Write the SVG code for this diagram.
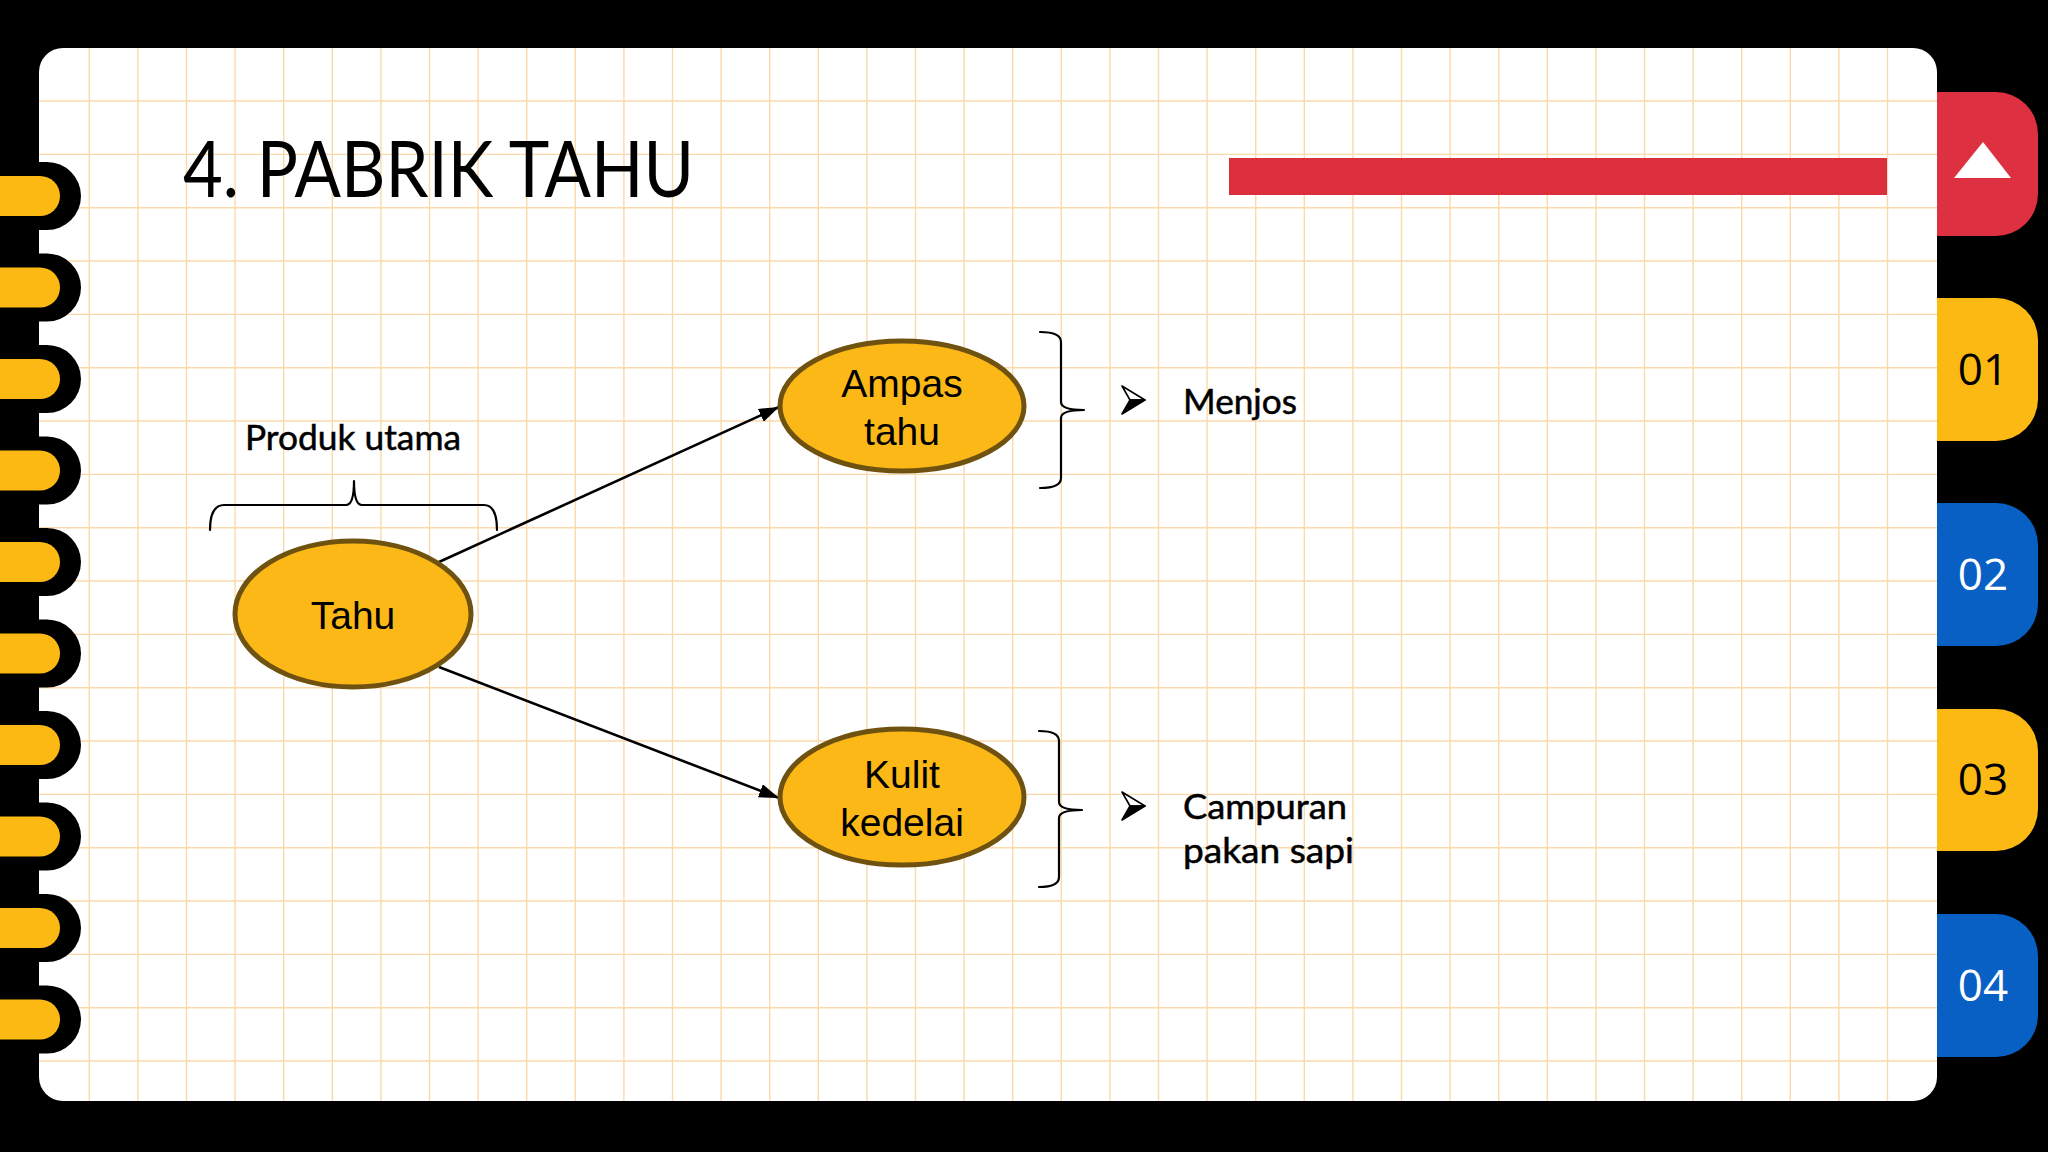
<svg xmlns="http://www.w3.org/2000/svg" width="2048" height="1152" viewBox="0 0 2048 1152">
  <style>
    .grid { fill: none; stroke: #F8CC8E; stroke-opacity: 0.75; stroke-width: 1.4; }
    .node { fill: #FBB817; stroke: #6F5210; stroke-width: 5; }
    .nodetxt { font-family: "Liberation Sans", Arial, sans-serif; font-size: 39px; fill: #000; text-anchor: middle; }
    .lbl { font-family: "Lato", "Open Sans", sans-serif; font-size: 34px; fill: #000; stroke: #000; stroke-width: 0.5; }
    .brace { fill: none; stroke: #000; stroke-width: 2.2; stroke-linecap: round; stroke-linejoin: round; }
    .conn { fill: none; stroke: #000; stroke-width: 2.6; }
    .tabnum { font-family: "Open Sans", "Noto Sans", sans-serif; font-size: 44px; text-anchor: middle; }
    .ring-black { fill: #000; }
    .ring-yellow { fill: #FDB913; }
  </style>
  <defs>
    <marker id="arrow" markerUnits="userSpaceOnUse" markerWidth="22" markerHeight="16" refX="20" refY="7" orient="auto">
      <path d="M0,0 L20,7 L0,14 Z" fill="#000"/>
    </marker>
    <g id="ring">
      <path class="ring-black" d="M0,-34 H47 A34 34 0 0 1 47,34 H0 Z"/>
      <path class="ring-yellow" d="M0,-20 H40 A20 20 0 0 1 40,20 H0 Z"/>
    </g>
    <g id="bullet">
      <path d="M0,0 L23,14 L8,14 Z" fill="#fff" stroke="#000" stroke-width="1.6" stroke-linejoin="round"/>
      <path d="M8,14 L23,14 L0,28 Z" fill="#000" stroke="#000" stroke-width="1.6" stroke-linejoin="round"/>
    </g>
  </defs>

  <!-- background -->
  <rect x="0" y="0" width="2048" height="1152" fill="#000"/>

  <!-- right side tabs -->
  <g id="tab-up">
    <path d="M1925,92 H1996 A42 42 0 0 1 2038,134 V194 A42 42 0 0 1 1996,236 H1925 Z" fill="#DD3040"/>
    <path d="M1954,178 L2011,178 L1983,142 Z" fill="#fff"/>
  </g>
  <g id="tab-01">
    <path d="M1925,298 H1996 A42 42 0 0 1 2038,340 V399 A42 42 0 0 1 1996,441 H1925 Z" fill="#FDB913"/>
    <text class="tabnum" x="1983" y="385" fill="#000">01</text>
  </g>
  <g id="tab-02">
    <path d="M1925,503 H1996 A42 42 0 0 1 2038,545 V604 A42 42 0 0 1 1996,646 H1925 Z" fill="#0860C4"/>
    <text class="tabnum" x="1983" y="590" fill="#fff">02</text>
  </g>
  <g id="tab-03">
    <path d="M1925,709 H1996 A42 42 0 0 1 2038,751 V809 A42 42 0 0 1 1996,851 H1925 Z" fill="#FDB913"/>
    <text class="tabnum" x="1983" y="795" fill="#000">03</text>
  </g>
  <g id="tab-04">
    <path d="M1925,914 H1996 A42 42 0 0 1 2038,956 V1015 A42 42 0 0 1 1996,1057 H1925 Z" fill="#0860C4"/>
    <text class="tabnum" x="1983" y="1001" fill="#fff">04</text>
  </g>

  <!-- card -->
  <rect x="39" y="48" width="1898" height="1053" rx="24" ry="24" fill="#fff"/>
  <clipPath id="cardclip"><rect x="39" y="48" width="1898" height="1053" rx="24" ry="24"/></clipPath>
  <path class="grid" clip-path="url(#cardclip)" d="M89.3 48V1101M137.9 48V1101M186.5 48V1101M235.1 48V1101M283.7 48V1101M332.3 48V1101M380.9 48V1101M429.5 48V1101M478.1 48V1101M526.7 48V1101M575.3 48V1101M623.9 48V1101M672.5 48V1101M721.1 48V1101M769.7 48V1101M818.3 48V1101M866.9 48V1101M915.5 48V1101M964.1 48V1101M1012.7 48V1101M1061.3 48V1101M1109.9 48V1101M1158.5 48V1101M1207.1 48V1101M1255.7 48V1101M1304.3 48V1101M1352.9 48V1101M1401.5 48V1101M1450.1 48V1101M1498.7 48V1101M1547.3 48V1101M1595.9 48V1101M1644.5 48V1101M1693.1 48V1101M1741.7 48V1101M1790.3 48V1101M1838.9 48V1101M1887.5 48V1101M39 101H1937M39 154.4H1937M39 207.7H1937M39 261H1937M39 314.4H1937M39 367.7H1937M39 421H1937M39 474.4H1937M39 527.7H1937M39 581H1937M39 634.4H1937M39 687.7H1937M39 741H1937M39 794.4H1937M39 847.7H1937M39 901H1937M39 954.4H1937M39 1007.7H1937M39 1061H1937"/>

  <!-- binder rings -->
  <g id="rings">
    <use href="#ring" x="0" y="196"/>
    <use href="#ring" x="0" y="287.5"/>
    <use href="#ring" x="0" y="379"/>
    <use href="#ring" x="0" y="470.5"/>
    <use href="#ring" x="0" y="562"/>
    <use href="#ring" x="0" y="653.5"/>
    <use href="#ring" x="0" y="745"/>
    <use href="#ring" x="0" y="836.5"/>
    <use href="#ring" x="0" y="928"/>
    <use href="#ring" x="0" y="1019.5"/>
  </g>

  <!-- title and bar -->
  <g id="title">
    <text x="183" y="197" font-family="Lato, 'Open Sans', sans-serif" font-size="78" textLength="511" lengthAdjust="spacingAndGlyphs" fill="#000">4. PABRIK TAHU</text>
  </g>
  <rect id="title-bar" x="1229" y="158" width="658" height="37" fill="#DC2F3E"/>

  <!-- connectors -->
  <g id="connectors">
    <line class="conn" x1="439" y1="562" x2="779" y2="407" marker-end="url(#arrow)"/>
    <line class="conn" x1="439" y1="667" x2="779" y2="798" marker-end="url(#arrow)"/>
  </g>

  <!-- nodes -->
  <g id="node-tahu">
    <ellipse class="node" cx="353" cy="614" rx="118" ry="73"/>
    <text class="nodetxt" x="353" y="629">Tahu</text>
  </g>
  <g id="node-ampas">
    <ellipse class="node" cx="902" cy="406" rx="122" ry="65"/>
    <text class="nodetxt" x="902" y="397">Ampas</text>
    <text class="nodetxt" x="902" y="445">tahu</text>
  </g>
  <g id="node-kulit">
    <ellipse class="node" cx="902" cy="797" rx="122" ry="68"/>
    <text class="nodetxt" x="902" y="788">Kulit</text>
    <text class="nodetxt" x="902" y="836">kedelai</text>
  </g>

  <!-- annotations -->
  <g id="label-produk">
    <path class="brace" d="M210,530 Q210,505 224,505 H346 Q354,505 354,481 Q354,505 362,505 H484 Q497,505 497,530"/>
    <text class="lbl" x="245" y="450" textLength="216" lengthAdjust="spacingAndGlyphs">Produk utama</text>
  </g>
  <g id="label-menjos">
    <path class="brace" d="M1040,332 Q1061,332 1061,342 V402 Q1061,410 1084,410 Q1061,410 1061,418 V478 Q1061,488 1040,488"/>
    <use href="#bullet" x="1122" y="386"/>
    <text class="lbl" x="1183" y="414" textLength="114" lengthAdjust="spacingAndGlyphs">Menjos</text>
  </g>
  <g id="label-campuran">
    <path class="brace" d="M1039,731 Q1059,731 1059,741 V802 Q1059,810 1082,810 Q1059,810 1059,818 V877 Q1059,887 1039,887"/>
    <use href="#bullet" x="1122" y="792"/>
    <text class="lbl" x="1183" y="819" textLength="164" lengthAdjust="spacingAndGlyphs">Campuran</text>
    <text class="lbl" x="1183" y="863" textLength="171" lengthAdjust="spacingAndGlyphs">pakan sapi</text>
  </g>
</svg>
